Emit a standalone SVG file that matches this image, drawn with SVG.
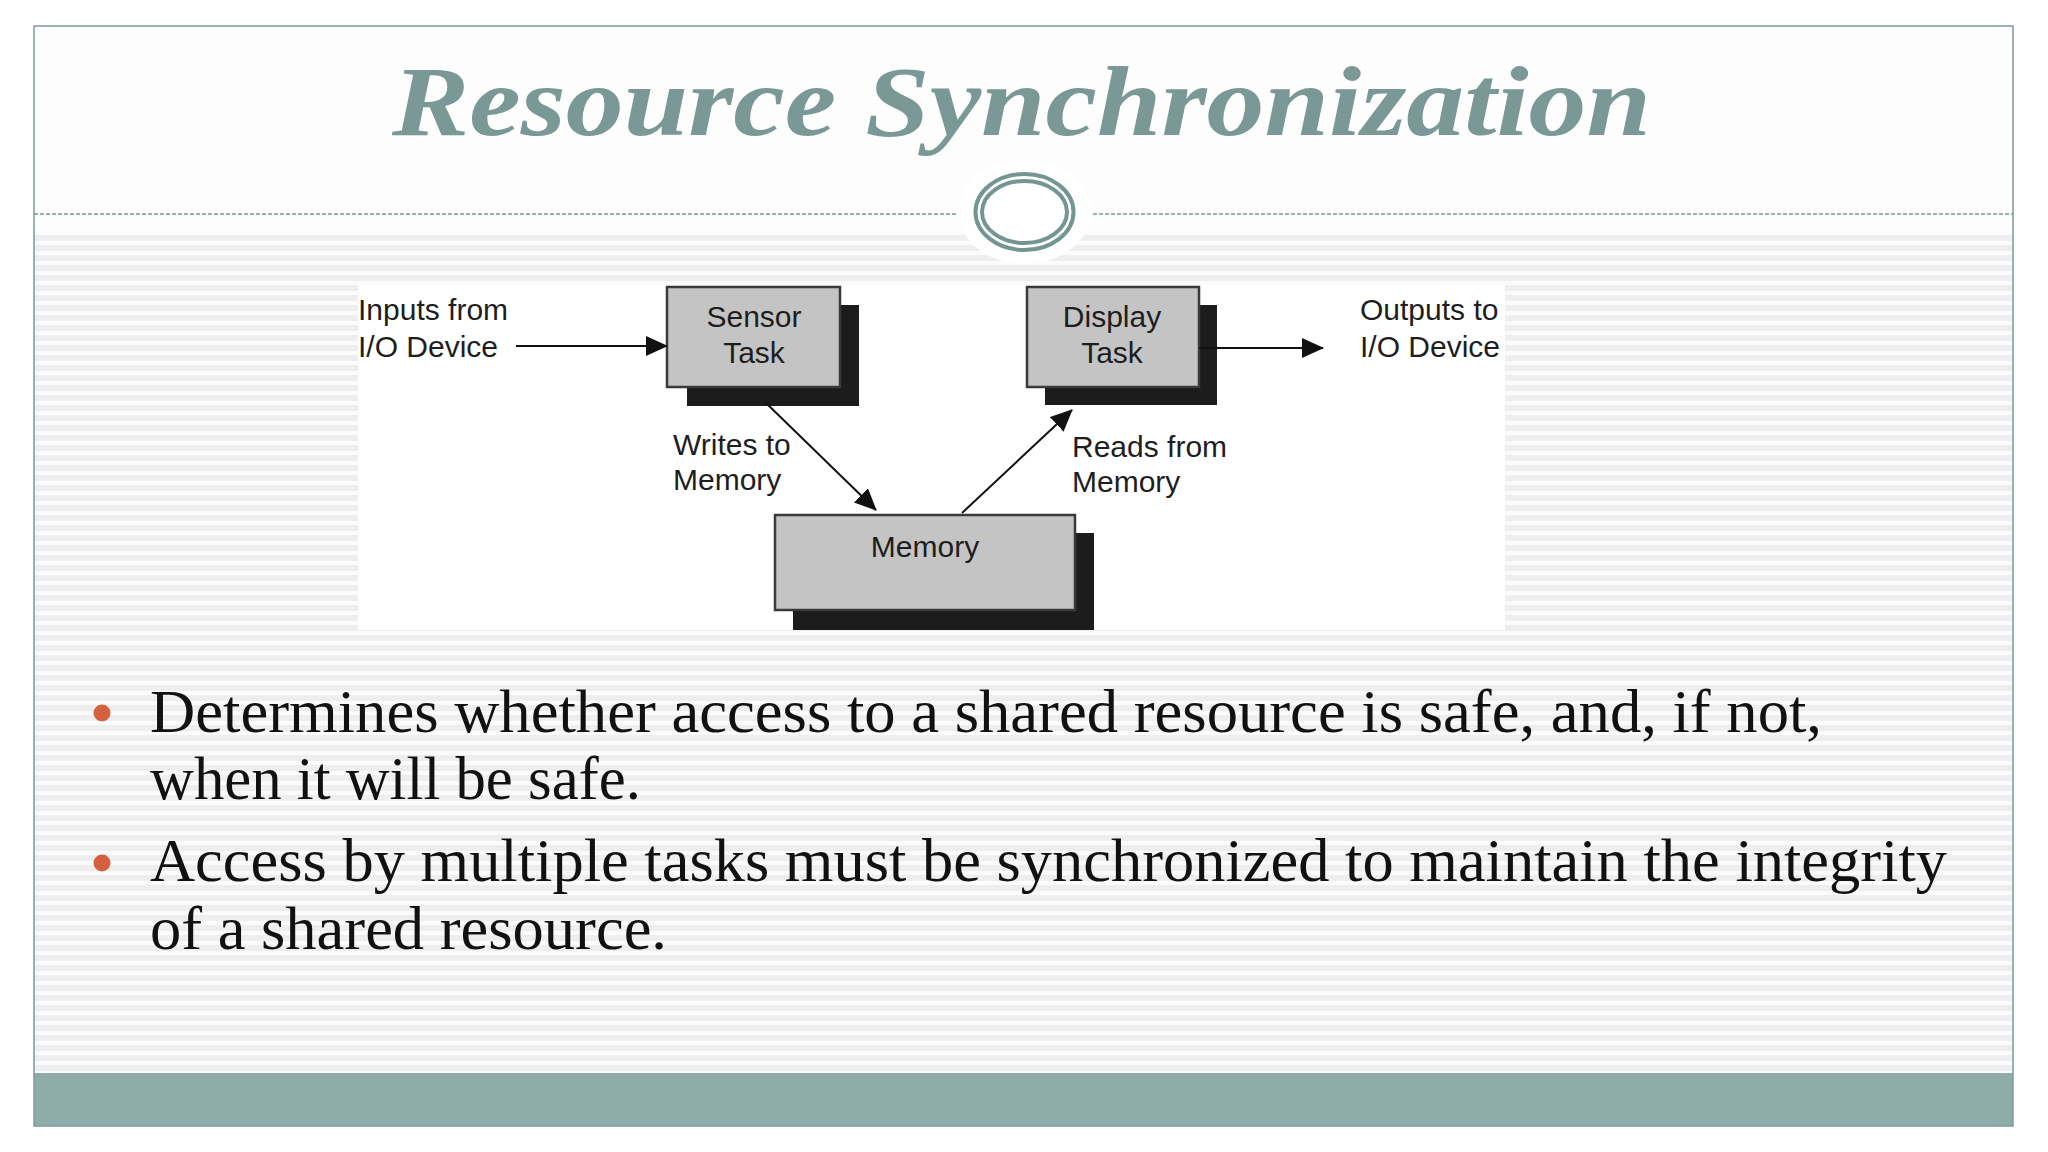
<svg xmlns="http://www.w3.org/2000/svg" width="2048" height="1152" viewBox="0 0 2048 1152">
  <defs>
    <pattern id="stripes" patternUnits="userSpaceOnUse" x="0" y="232" width="10" height="10">
      <rect width="10" height="10" fill="#fbfbfc"/>
      <rect y="3" width="10" height="6" fill="#eeeef1"/>
    </pattern>
    <marker id="arrow" markerUnits="userSpaceOnUse" viewBox="0 0 22 20" refX="21" refY="10" markerWidth="22" markerHeight="20" orient="auto">
      <path d="M0,0 L22,10 L0,20 z" fill="#111"/>
    </marker>
    <style>
      .title { font-family: "Liberation Serif", "Times New Roman", serif; font-weight: bold; font-style: italic; font-size: 100px; fill: #7a9896; }
      .bullet { font-family: "Liberation Serif", "Times New Roman", serif; font-size: 61px; fill: #111; }
      .lbl { font-family: "Liberation Sans", Arial, sans-serif; font-size: 30px; fill: #1e1e1e; }
      .box { fill: #c4c4c4; stroke: #3a3a3a; stroke-width: 2.5; }
      .shadow { fill: #1c1c1c; }
      .conn { stroke: #111; stroke-width: 2; fill: none; marker-end: url(#arrow); }
      .dot { fill: #d4603e; }
    </style>
  </defs>

  <!-- page -->
  <rect width="2048" height="1152" fill="#ffffff"/>
  <rect x="34" y="26" width="1979" height="206" fill="#fdfdfd"/>
  <rect x="34" y="232" width="1979" height="841" fill="url(#stripes)"/>
  <rect x="34" y="1073" width="1979" height="53" fill="#8dacaa"/>
  <rect x="34" y="26" width="1979" height="1100" fill="none" stroke="#7d9b99" stroke-width="1.5"/>

  <!-- title -->
  <g id="title">
    <text class="title" x="392" y="135" textLength="1259" lengthAdjust="spacingAndGlyphs">Resource Synchronization</text>
  </g>

  <!-- divider -->
  <g id="divider">
    <line x1="34" y1="214" x2="956" y2="214" stroke="#7a9896" stroke-width="1.5" stroke-dasharray="4 2"/>
    <line x1="1093" y1="214" x2="2013" y2="214" stroke="#7a9896" stroke-width="1.5" stroke-dasharray="4 2"/>
    <ellipse cx="1024.5" cy="212" rx="66" ry="52" fill="#ffffff"/>
    <ellipse cx="1024.5" cy="212" rx="49" ry="38" fill="none" stroke="#739692" stroke-width="4"/>
    <ellipse cx="1024.5" cy="212" rx="42.5" ry="31" fill="none" stroke="#739692" stroke-width="4"/>
  </g>

  <!-- diagram -->
  <rect x="358" y="285" width="1147" height="345" fill="#ffffff"/>

  <g id="sensor-task">
    <rect class="shadow" x="687" y="305" width="172" height="101"/>
    <rect class="box" x="667" y="287" width="173" height="100"/>
    <text class="lbl" x="754" y="327" text-anchor="middle">Sensor</text>
    <text class="lbl" x="754" y="363" text-anchor="middle">Task</text>
  </g>

  <g id="display-task">
    <rect class="shadow" x="1045" y="305" width="172" height="100"/>
    <rect class="box" x="1027" y="287" width="172" height="100"/>
    <text class="lbl" x="1112" y="327" text-anchor="middle">Display</text>
    <text class="lbl" x="1112" y="363" text-anchor="middle">Task</text>
  </g>

  <g id="memory">
    <rect class="shadow" x="793" y="533" width="301" height="97"/>
    <rect class="box" x="775" y="515" width="300" height="95"/>
    <text class="lbl" x="925" y="557" text-anchor="middle">Memory</text>
  </g>

  <g id="input-label">
    <text class="lbl" x="358" y="320">Inputs from</text>
    <text class="lbl" x="358" y="357">I/O Device</text>
  </g>

  <g id="output-label">
    <text class="lbl" x="1360" y="320">Outputs to</text>
    <text class="lbl" x="1360" y="357">I/O Device</text>
  </g>

  <g id="connectors">
    <line class="conn" x1="516" y1="346" x2="667" y2="346"/>
    <line class="conn" x1="1199" y1="348" x2="1323" y2="348"/>
    <line class="conn" x1="765" y1="402" x2="876" y2="510"/>
    <line class="conn" x1="962" y1="513" x2="1072" y2="410"/>
    <text class="lbl" x="673" y="455">Writes to</text>
    <text class="lbl" x="673" y="490">Memory</text>
    <text class="lbl" x="1072" y="457">Reads from</text>
    <text class="lbl" x="1072" y="492">Memory</text>
  </g>

  <!-- bullets -->
  <g id="bullets">
    <circle class="dot" cx="102" cy="713" r="8.5"/>
    <text class="bullet" x="150" y="732" textLength="1672" lengthAdjust="spacingAndGlyphs">Determines whether access to a shared resource is safe, and, if not,</text>
    <text class="bullet" x="150" y="799" textLength="491" lengthAdjust="spacingAndGlyphs">when it will be safe.</text>
    <circle class="dot" cx="102" cy="863" r="8.5"/>
    <text class="bullet" x="150" y="881" textLength="1797" lengthAdjust="spacingAndGlyphs">Access by multiple tasks must be synchronized to maintain the integrity</text>
    <text class="bullet" x="150" y="949" textLength="517" lengthAdjust="spacingAndGlyphs">of a shared resource.</text>
  </g>
</svg>
